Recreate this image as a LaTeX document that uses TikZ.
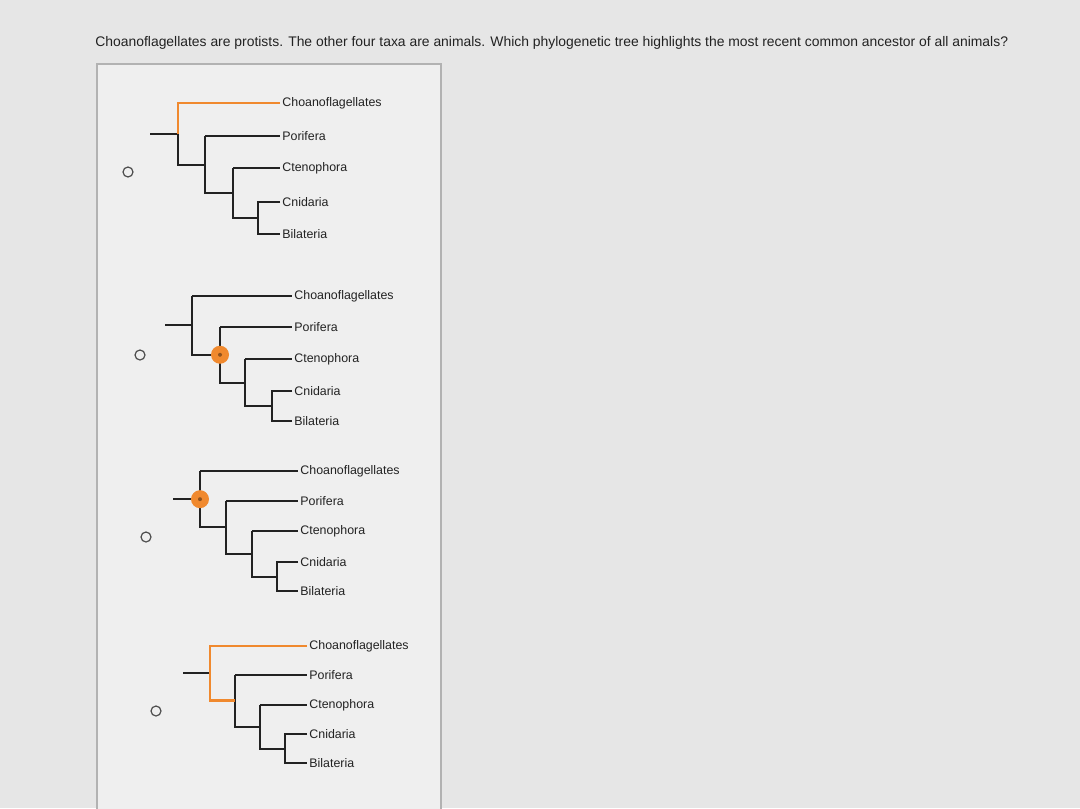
\documentclass[tikz,border=0pt]{standalone}
\usepackage{fontspec}
\setmainfont{Liberation Sans}
\definecolor{bg}{HTML}{E6E6E6}
\definecolor{panel}{HTML}{EFEFEF}
\definecolor{org}{HTML}{F0892E}
\definecolor{ink}{HTML}{222222}
\tikzset{
  br/.style={draw=ink,line width=1pt},
  hl/.style={draw=org,line width=1.4pt},
  lbl/.style={anchor=west,inner sep=1pt,font=\fontsize{6.2}{7}\selectfont,text=ink},
  radio/.style={circle,draw=ink!80,line width=0.6pt,minimum size=5pt,inner sep=0pt},
  dot/.style={circle,fill=org,minimum size=9pt,inner sep=0pt}
}
\begin{document}
\begin{tikzpicture}[x=0.5pt,y=-0.5pt]
\fill[bg] (0,0) rectangle (1080,808);
\useasboundingbox (0,0) rectangle (1080,808);
\filldraw[fill=panel,draw=gray!60,line width=0.6pt] (97,64) rectangle (441,830);
\node[anchor=west,inner sep=0pt,font=\fontsize{6.95}{8}\selectfont,text=ink] (title) at (95,43) {Choanoflagellates are protists. The other four taxa are animals. Which phylogenetic tree highlights the most recent common ancestor of all animals?};
\foreach \t/\rx/\ry/\xs/\xa/\xb/\xc/\xd/\xe/\ya/\yb/\yc/\yd/\yf in {
 1/128/172/150/178/205/233/258/280/103/136/168/202/234,
 2/140/355/165/192/220/245/272/292/296/327/359/391/421,
 3/146/537/173/200/226/252/277/298/471/501/531/562/591,
 4/156/711/183/210/235/260/285/307/646/675/705/734/763}{
  \pgfmathsetmacro\jd{(\yd+\yf)/2}
  \pgfmathsetmacro\jc{(\yc+\jd)/2}
  \pgfmathsetmacro\jb{(\yb+\jc)/2}
  \pgfmathsetmacro\ja{(\ya+\jb)/2}
  \node[radio] (r\t) at (\rx,\ry) {};
  \node[lbl] (C\t) at (\xe,\ya) {Choanoflagellates};
  \node[lbl] (P\t) at (\xe,\yb) {Porifera};
  \node[lbl] (T\t) at (\xe,\yc) {Ctenophora};
  \node[lbl] (N\t) at (\xe,\yd) {Cnidaria};
  \node[lbl] (B\t) at (\xe,\yf) {Bilateria};
  \coordinate (s\t) at (\xs,\ja);
  \coordinate (a\t) at (\xa,\ja);
  \coordinate (b\t) at (\xb,\jb);
  \coordinate (c\t) at (\xc,\jc);
  \coordinate (d\t) at (\xd,\jd);
  \draw[br] (s\t) -- (a\t);
  \draw[br] (a\t |- C\t.west) -- (C\t.west);
  \draw[br] (a\t |- C\t.west) -- (a\t |- b\t) -- (b\t);
  \draw[br] (b\t |- P\t.west) -- (P\t.west);
  \draw[br] (b\t |- P\t.west) -- (b\t |- c\t) -- (c\t);
  \draw[br] (c\t |- T\t.west) -- (T\t.west);
  \draw[br] (c\t |- T\t.west) -- (c\t |- d\t) -- (d\t);
  \draw[br] (N\t.west) -- (d\t |- N\t.west) -- (d\t |- B\t.west) -- (B\t.west);
}
\draw[hl] (C1.west) -- (a1 |- C1.west) -- (a1);
\draw[hl] (C4.west) -- (a4 |- C4.west) -- (a4 |- b4) -- (b4);
\node[dot] (m2) at (b2) {};
\node[dot] (m3) at (a3) {};
\fill[org!60!black] (m2) circle (1pt);
\fill[org!60!black] (m3) circle (1pt);
\end{tikzpicture}
\end{document}
